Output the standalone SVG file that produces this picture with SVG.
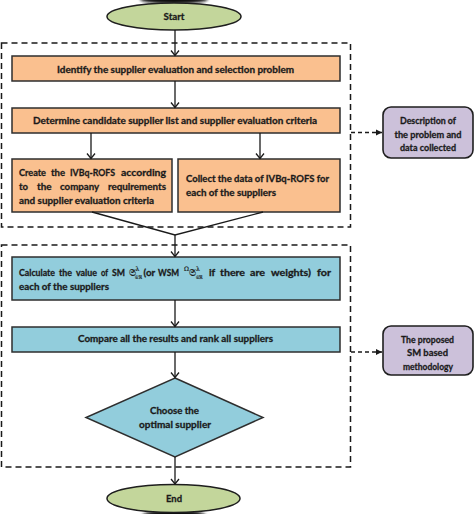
<svg xmlns="http://www.w3.org/2000/svg" width="474" height="514" viewBox="0 0 474 514">
<style>
.t{font-family:Lato,"Liberation Sans","DejaVu Sans",sans-serif;font-weight:bold;font-size:10px;fill:#1a1a1a;stroke:#1a1a1a;stroke-width:0.3px}
.m{text-anchor:middle}
.or{fill:#FAC08F;stroke:#2e2e2e;stroke-width:1.5}
.bl{fill:#92CDDC;stroke:#2e2e2e;stroke-width:1.5}
.gr{fill:#C3D69B;stroke:#1e1e1e;stroke-width:1.5}
.lv{fill:#CCC1DA;stroke:#1e1e1e;stroke-width:1.6}
.dash{fill:none;stroke:#1a1a1a;stroke-width:1.5;stroke-dasharray:6,4}
.c{fill:none;stroke:#1a1a1a;stroke-width:1.3}
.f{font-family:"DejaVu Serif","DejaVu Sans",serif;font-weight:normal;fill:#1a1a1a;stroke:#1a1a1a;stroke-width:0.2px}
</style>
<defs>
<marker id="ah" markerUnits="userSpaceOnUse" markerWidth="12" markerHeight="12" viewBox="-7 -6 8 12" refX="0" refY="0" orient="auto">
<path d="M-5,-4 L0,0 L-5,4" fill="none" stroke="#1a1a1a" stroke-width="1.3"/>
</marker>
<marker id="fh" markerUnits="userSpaceOnUse" markerWidth="10" markerHeight="10" viewBox="-7 -5 8 10" refX="0" refY="0" orient="auto">
<path d="M0,0 L-6,-3 L-6,3 Z" fill="#1a1a1a"/>
</marker>
<filter id="bl" x="-50%" y="-100%" width="200%" height="300%"><feGaussianBlur stdDeviation="1.5"/></filter>
</defs>

<g id="groups">
<rect class="dash" x="1.5" y="43" width="349" height="184"/>
<rect class="dash" x="1.5" y="245" width="349" height="222"/>
</g>

<g id="start">
<ellipse cx="174" cy="-1" rx="34" ry="5" fill="#111" filter="url(#bl)"/>
<ellipse class="gr" cx="174" cy="16.5" rx="67" ry="13.5"/>
<text class="t m" x="174" y="20" textLength="21" lengthAdjust="spacingAndGlyphs">Start</text>
</g>

<g id="identify">
<rect class="or" x="12" y="56" width="328" height="25"/>
<text class="t m" x="175.5" y="72.5" textLength="237" lengthAdjust="spacingAndGlyphs">Identify the supplier evaluation and selection problem</text>
</g>

<g id="determine">
<rect class="or" x="12" y="108" width="328" height="25"/>
<text class="t m" x="175" y="123.5" textLength="284" lengthAdjust="spacingAndGlyphs">Determine candidate supplier list and supplier evaluation criteria</text>
</g>

<g id="create">
<rect class="or" x="12" y="159" width="160" height="53"/>
<text class="t" y="175.5"><tspan x="19" textLength="27" lengthAdjust="spacingAndGlyphs">Create</tspan> <tspan x="51" textLength="14" lengthAdjust="spacingAndGlyphs">the</tspan> <tspan x="70" textLength="45" lengthAdjust="spacingAndGlyphs">IVBq-ROFS</tspan> <tspan x="121" textLength="45" lengthAdjust="spacingAndGlyphs">according</tspan></text>
<text class="t" y="189.5"><tspan x="19" textLength="9" lengthAdjust="spacingAndGlyphs">to</tspan> <tspan x="37" textLength="14.5" lengthAdjust="spacingAndGlyphs">the</tspan> <tspan x="60" textLength="39" lengthAdjust="spacingAndGlyphs">company</tspan> <tspan x="108" textLength="58" lengthAdjust="spacingAndGlyphs">requirements</tspan></text>
<text class="t" x="19" y="203.5" textLength="135" lengthAdjust="spacingAndGlyphs">and supplier evaluation criteria</text>
</g>

<g id="collect">
<rect class="or" x="178" y="159" width="162" height="53"/>
<text class="t" x="186" y="181.5" textLength="143" lengthAdjust="spacingAndGlyphs">Collect the data of IVBq-ROFS for</text>
<text class="t" x="186" y="196" textLength="90" lengthAdjust="spacingAndGlyphs">each of the suppliers</text>
</g>

<g id="calculate">
<rect class="bl" x="12" y="257" width="328" height="43"/>
<text class="t" y="276">
<tspan x="19" textLength="36" lengthAdjust="spacingAndGlyphs">Calculate</tspan>
<tspan x="59" textLength="13" lengthAdjust="spacingAndGlyphs">the</tspan>
<tspan x="76" textLength="21" lengthAdjust="spacingAndGlyphs">value</tspan>
<tspan x="101" textLength="7" lengthAdjust="spacingAndGlyphs">of</tspan>
<tspan x="112" textLength="13" lengthAdjust="spacingAndGlyphs">SM</tspan>
</text>
<text class="f" x="128.5" y="276" font-size="10">𝔖</text>
<text class="f" x="135.5" y="271" font-size="6">λ</text>
<text class="f" x="135" y="279" font-size="5" textLength="7" lengthAdjust="spacingAndGlyphs">𝔖ℜ</text>
<text class="t" y="276">
<tspan x="143.5" textLength="11.5" lengthAdjust="spacingAndGlyphs">(or</tspan>
<tspan x="158" textLength="21" lengthAdjust="spacingAndGlyphs">WSM</tspan>
</text>
<text class="f" x="184" y="271" font-size="6">Ω</text>
<text class="f" x="189" y="276" font-size="10">𝔖</text>
<text class="f" x="196" y="271" font-size="6">λ</text>
<text class="f" x="195.5" y="279" font-size="5" textLength="7" lengthAdjust="spacingAndGlyphs">𝔖ℜ</text>
<text class="t" y="276">
<tspan x="209" textLength="6" lengthAdjust="spacingAndGlyphs">if</tspan>
<tspan x="220" textLength="25" lengthAdjust="spacingAndGlyphs">there</tspan>
<tspan x="250" textLength="15" lengthAdjust="spacingAndGlyphs">are</tspan>
<tspan x="271" textLength="40" lengthAdjust="spacingAndGlyphs">weights)</tspan>
<tspan x="317" textLength="14" lengthAdjust="spacingAndGlyphs">for</tspan>
</text>
<text class="t" x="19" y="289.5" textLength="90" lengthAdjust="spacingAndGlyphs">each of the suppliers</text>
</g>

<g id="compare">
<rect class="bl" x="12" y="327" width="328" height="25"/>
<text class="t m" x="175.5" y="342" textLength="195" lengthAdjust="spacingAndGlyphs">Compare all the results and rank all suppliers</text>
</g>

<g id="choose">
<polygon class="bl" points="175,378 263,417.5 175,457 86,417.5"/>
<text class="t m" x="174.5" y="413.5" textLength="49" lengthAdjust="spacingAndGlyphs">Choose the</text>
<text class="t m" x="175" y="428" textLength="72" lengthAdjust="spacingAndGlyphs">optimal supplier</text>
</g>

<g id="end">
<ellipse cx="174" cy="516" rx="32" ry="6" fill="#111" filter="url(#bl)"/>
<ellipse class="gr" cx="173.5" cy="498.5" rx="66.5" ry="14"/>
<text class="t m" x="174" y="502" textLength="16" lengthAdjust="spacingAndGlyphs">End</text>
</g>

<g id="description">
<rect class="lv" x="383" y="107" width="90" height="51" rx="8"/>
<text class="t m" x="428" y="124" textLength="56" lengthAdjust="spacingAndGlyphs">Description of</text>
<text class="t m" x="428" y="138" textLength="67" lengthAdjust="spacingAndGlyphs">the problem and</text>
<text class="t m" x="428" y="151" textLength="56" lengthAdjust="spacingAndGlyphs">data collected</text>
</g>

<g id="proposed">
<rect class="lv" x="383" y="326" width="90" height="49" rx="8"/>
<text class="t m" x="427.5" y="342.5" textLength="53" lengthAdjust="spacingAndGlyphs">The proposed</text>
<text class="t m" x="427.5" y="356" textLength="41" lengthAdjust="spacingAndGlyphs">SM based</text>
<text class="t m" x="428" y="369.5" textLength="50" lengthAdjust="spacingAndGlyphs">methodology</text>
</g>

<g id="connectors">
<line class="c" x1="175" y1="30" x2="175" y2="55.5" marker-end="url(#ah)"/>
<line class="c" x1="175" y1="81" x2="175" y2="107.5" marker-end="url(#ah)"/>
<line class="c" x1="91" y1="133" x2="91" y2="158.5" marker-end="url(#ah)"/>
<line class="c" x1="260" y1="133" x2="260" y2="158.5" marker-end="url(#ah)"/>
<polyline class="c" points="92,212 175,235 263,212"/>
<line class="c" x1="175" y1="235" x2="175" y2="256.5" marker-end="url(#ah)"/>
<line class="c" x1="175" y1="300" x2="175" y2="326.5" marker-end="url(#ah)"/>
<line class="c" x1="175" y1="352" x2="175" y2="377.5" marker-end="url(#ah)"/>
<line class="c" x1="175" y1="457" x2="175" y2="484" marker-end="url(#ah)"/>
<line class="c" x1="351" y1="132.5" x2="382" y2="132.5" stroke-dasharray="4,3" marker-end="url(#fh)"/>
<line class="c" x1="351" y1="352" x2="382" y2="352" stroke-dasharray="4,3" marker-end="url(#fh)"/>
</g>
</svg>
